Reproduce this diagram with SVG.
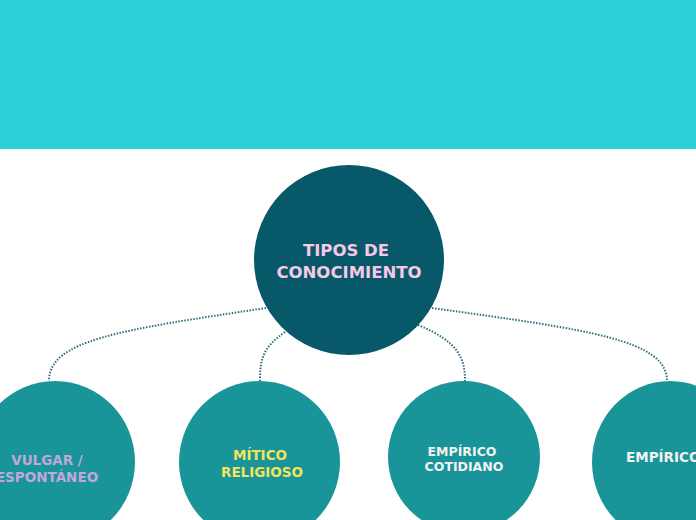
<svg xmlns="http://www.w3.org/2000/svg" width="696" height="520" viewBox="0 0 696 520">
<style>
.c{fill:none;stroke:#2f6e7c;stroke-width:2;stroke-dasharray:1.5 1.5}
.t{font-family:"DejaVu Sans",Verdana,sans-serif;font-weight:bold;font-size:13.5px;text-anchor:middle}
.s{fill:#199599}
</style>
<rect x="0" y="0" width="696" height="520" fill="#fff"/>
<rect x="0" y="0" width="696" height="149" fill="#2ad0d8"/>
<g id="connectors">
<path class="c" d="M266,308 C120,330 49,340 49,381"/>
<path class="c" d="M285,332 C262,348 260,360 260,381"/>
<path class="c" d="M418,325 C460,342 465,360 465,381"/>
<path class="c" d="M432,308 C590,330 667,340 667,381"/>
</g>
<g id="root"><circle cx="349" cy="260" r="95" fill="#075868"/>
<text class="t" style="font-size:16.5px" fill="#f7c8e8"><tspan x="346" y="256">TIPOS DE</tspan><tspan x="349" y="278">CONOCIMIENTO</tspan></text></g>
<g id="n1"><ellipse class="s" cx="55" cy="462" rx="80" ry="81"/>
<text class="t" fill="#c2a8d6"><tspan x="47" y="465">VULGAR /</tspan><tspan x="47" y="482">ESPONTÁNEO</tspan></text></g>
<g id="n2"><ellipse class="s" cx="259.5" cy="462" rx="80.5" ry="81"/>
<text class="t" fill="#f2e45a"><tspan x="260" y="460">MÍTICO</tspan><tspan x="262" y="477">RELIGIOSO</tspan></text></g>
<g id="n3"><ellipse class="s" cx="464" cy="457" rx="76" ry="76"/>
<text class="t" style="font-size:12.5px" fill="#f2f2f2"><tspan x="462" y="456">EMPÍRICO</tspan><tspan x="464" y="471">COTIDIANO</tspan></text></g>
<g id="n4"><ellipse class="s" cx="670" cy="462" rx="78" ry="81"/>
<text class="t" style="text-anchor:start" fill="#f2f2f2"><tspan x="626" y="462">EMPÍRICO</tspan></text></g>
</svg>
